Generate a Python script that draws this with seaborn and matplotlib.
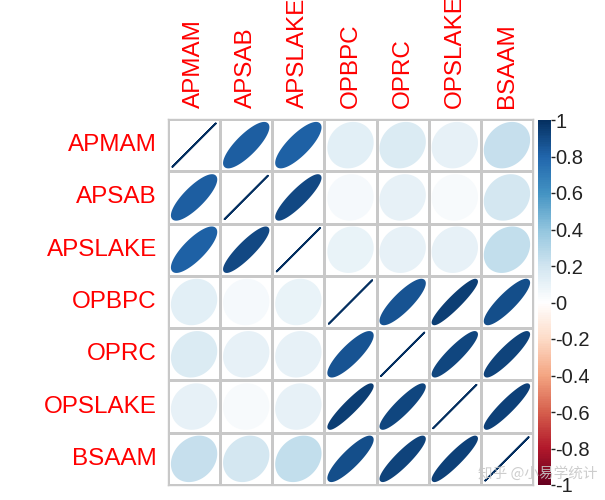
import matplotlib
matplotlib.use("Agg")
import matplotlib.pyplot as plt
import numpy as np
import pandas as pd
import seaborn as sns
from matplotlib.colors import LinearSegmentedColormap, ListedColormap, Normalize
from matplotlib.patches import Polygon
from matplotlib.cm import ScalarMappable

# variables of the water data
labels = ["APMAM", "APSAB", "APSLAKE", "OPBPC", "OPRC", "OPSLAKE", "BSAAM"]

# correlation matrix rows
apmam = [1.000, 0.828, 0.816, 0.122, 0.154, 0.108, 0.239]
apsab = [0.828, 1.000, 0.900, 0.040, 0.106, 0.030, 0.183]
apslake = [0.816, 0.900, 1.000, 0.093, 0.106, 0.101, 0.249]
opbpc = [0.122, 0.040, 0.093, 1.000, 0.865, 0.943, 0.886]
oprc = [0.154, 0.106, 0.106, 0.865, 1.000, 0.919, 0.920]
opslake = [0.108, 0.030, 0.101, 0.943, 0.919, 1.000, 0.938]
bsaam = [0.239, 0.183, 0.249, 0.886, 0.920, 0.938, 1.000]

cbar_ticks = [1, 0.8, 0.6, 0.4, 0.2, 0, -0.2, -0.4, -0.6, -0.8, -1]
cbar_labels = ["1", "0.8", "0.6", "0.4", "0.2", "0", "-0.2", "-0.4", "-0.6", "-0.8", "-1"]

corr = pd.DataFrame([apmam, apsab, apslake, opbpc, oprc, opslake, bsaam],
                    index=labels, columns=labels)

# corrplot's RdBu palette
col2 = ["#67001F", "#B2182B", "#D6604D", "#F4A582", "#FDDBC7", "#FFFFFF",
        "#D1E5F0", "#92C5DE", "#4393C3", "#2166AC", "#053061"]
cmap = LinearSegmentedColormap.from_list("corr_rdbu", col2, N=200)
norm = Normalize(vmin=-1, vmax=1)

fig = plt.figure(figsize=(6.05, 5.0), dpi=100)
ax = fig.add_axes([0.2777, 0.03, 0.6033, 0.732])
cax = fig.add_axes([0.889, 0.03, 0.0215, 0.730])

# white grid of cells
sns.heatmap(corr * 0, cmap=ListedColormap(["white"]), cbar=False,
            linewidths=1, linecolor="#c8c8c8", square=False, ax=ax)

# ellipses, shape from the correlation like corrplot
s = 0.415
t = np.linspace(0, 2 * np.pi, 200)
for i, row in enumerate(labels):
    for j, colname in enumerate(labels):
        r = corr.loc[row, colname]
        d = np.arccos(np.clip(r, -1, 1))
        xs = j + 0.5 + s * np.cos(t + d / 2)
        ys = i + 0.5 - s * np.cos(t - d / 2)
        c = cmap(norm(r))
        lw = 1.3 if r >= 0.999 else 2.2
        ax.add_patch(Polygon(np.column_stack([xs, ys]), closed=True,
                             facecolor=c, edgecolor=c, linewidth=lw,
                             joinstyle="round"))

ax.xaxis.tick_top()
ax.set_xticklabels(labels, rotation=90, color="red", fontsize=17.5,
                   family="Liberation Sans")
ax.set_yticklabels(labels, rotation=0, color="red", fontsize=17.5,
                   family="Liberation Sans")
ax.tick_params(axis="both", length=0, pad=8)
ax.set_xlabel("")
ax.set_ylabel("")
for sp in ax.spines.values():
    sp.set_visible(True)
    sp.set_color("#c8c8c8")
    sp.set_linewidth(1)

# colour legend
sm = ScalarMappable(norm=norm, cmap=cmap)
cb = fig.colorbar(sm, cax=cax, ticks=cbar_ticks)
cb.set_ticklabels(cbar_labels)
cb.outline.set_visible(False)
cax.tick_params(length=3, width=1, color="#222222", pad=0, labelsize=14.5,
                labelcolor="#222222")
for tl in cax.get_yticklabels():
    tl.set_family("Liberation Sans")

# watermark
fig.text(0.79, 0.052, "知乎 @小易学统计", fontsize=10.5, color="#c8c8c8", alpha=0.9,
         family=["Noto Sans CJK SC", "DejaVu Sans"], va="center", ha="left")

fig.savefig("out.png", dpi=100)
